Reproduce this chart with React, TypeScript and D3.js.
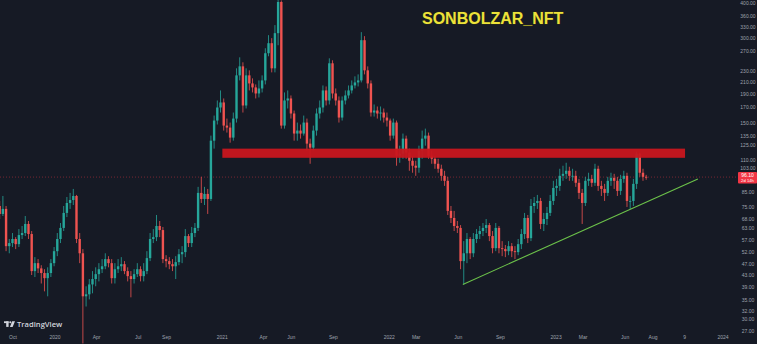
import React from 'react';
import * as d3 from 'd3';

const W = 757;
const H = 344;

// weekly candles, first week starting 2019-09-02
const firstWeek = '2019-09-02';
const firstOpen = 75.8;
const closes = [
  71.0, 74.0, 54.5, 55.9, 57.8, 55.4, 59.7, 60.7, 65.4, 60.2,
  44.4, 47.4, 45.4, 43.7, 41.9, 43.7, 47.4, 52.3, 57.8, 63.3,
  71.6, 77.7, 79.6, 82.3, 57.8, 51.4, 36.1, 36.7, 39.8, 41.6,
  43.3, 45.1, 46.2, 49.0, 47.4, 41.9, 45.1, 46.2, 47.0, 44.4,
  42.6, 41.6, 43.3, 45.1, 42.6, 44.4, 49.4, 57.8, 58.7, 64.3,
  62.2, 49.0, 48.2, 47.0, 46.2, 47.8, 51.0, 51.9, 59.2, 55.9,
  60.7, 63.3, 84.4, 80.3, 83.7, 80.3, 129.6, 152.9, 170.2, 177.4,
  146.7, 144.3, 132.9, 155.4, 221.6, 238.6, 173.0, 221.6, 207.4, 200.7,
  191.0, 199.0, 212.6, 265.8, 288.6, 234.8, 313.4, 404.8, 146.7, 180.3,
  183.3, 162.0, 137.4, 140.8, 137.4, 150.4, 126.5, 122.4, 140.8, 162.0,
  170.2, 195.8, 180.3, 244.7, 191.0, 180.3, 156.7, 180.3, 187.9, 195.8,
  204.0, 209.1, 212.6, 295.8, 230.9, 207.4, 163.3, 166.0, 162.0, 163.3,
  156.7, 152.9, 135.1, 150.4, 114.5, 116.5, 131.8, 117.5, 109.9, 105.5,
  103.8, 119.4, 131.8, 135.1, 114.5, 111.7, 107.2, 102.9, 97.1, 93.2,
  72.8, 68.7, 64.3, 63.3, 48.2, 51.4, 57.8, 51.4, 57.8, 60.2,
  61.7, 63.3, 64.8, 59.2, 53.6, 63.3, 53.6, 53.2, 52.3, 54.5,
  52.3, 51.9, 55.4, 60.2, 68.7, 58.2, 75.8, 77.7, 79.0, 65.4,
  68.1, 71.6, 79.0, 87.9, 89.4, 97.1, 98.7, 101.2, 97.1, 97.1,
  91.7, 84.4, 77.7, 93.2, 94.7, 91.7, 102.9, 89.4, 87.2, 84.4,
  93.2, 95.5, 93.2, 85.8, 94.7, 97.1, 79.0, 79.0, 90.9, 116.5,
  99.6, 96.3, 96.1,
];
const highs = [
  79.0, 82.3, 75.8, 57.8, 60.7, 58.7, 62.7, 64.3, 69.8, 67.0,
  61.7, 49.8, 49.0, 46.6, 45.1, 45.8, 49.0, 54.1, 60.7, 65.9,
  75.8, 81.6, 84.4, 87.2, 83.0, 60.7, 53.2, 39.2, 41.6, 44.4,
  45.8, 47.4, 49.0, 51.4, 50.2, 49.0, 47.4, 49.0, 49.8, 48.2,
  45.8, 44.4, 45.1, 47.4, 46.2, 47.4, 52.3, 60.7, 62.7, 70.4,
  67.0, 63.8, 50.6, 49.8, 49.0, 50.2, 53.2, 54.5, 62.7, 60.2,
  63.8, 65.9, 88.7, 96.3, 88.7, 87.2, 135.1, 159.3, 180.3, 195.8,
  183.3, 155.4, 150.4, 163.3, 234.8, 257.0, 246.7, 234.8, 230.9, 216.2,
  205.7, 212.6, 221.6, 276.9, 308.3, 300.8, 334.8, 484.9, 410.0, 192.6,
  195.8, 187.9, 166.0, 150.4, 148.0, 159.3, 155.4, 131.8, 146.7, 168.8,
  180.3, 204.0, 202.3, 254.9, 250.8, 199.0, 186.4, 186.4, 195.8, 204.0,
  212.6, 219.8, 223.4, 316.0, 305.8, 238.6, 212.6, 174.5, 171.6, 171.6,
  168.8, 163.3, 155.4, 155.4, 152.9, 124.4, 137.4, 135.1, 121.4, 114.5,
  109.9, 124.4, 140.8, 143.1, 138.5, 119.4, 114.5, 111.7, 106.4, 101.2,
  96.3, 75.8, 72.8, 67.0, 64.8, 56.8, 60.7, 58.7, 60.7, 62.7,
  64.3, 65.9, 68.1, 65.9, 61.7, 65.9, 64.3, 56.8, 55.0, 56.8,
  55.9, 54.5, 57.8, 62.7, 71.6, 70.4, 80.3, 81.6, 83.0, 81.0,
  71.6, 75.2, 83.0, 93.2, 94.7, 102.9, 105.5, 108.1, 104.6, 102.9,
  101.2, 94.7, 87.2, 96.3, 99.6, 97.9, 107.2, 105.5, 93.2, 90.9,
  96.3, 99.6, 98.7, 96.3, 97.9, 101.2, 99.6, 82.3, 94.7, 118.4,
  117.5, 102.9, 97.9,
];
const lows = [
  68.1, 69.8, 52.3, 51.4, 54.1, 53.2, 54.1, 57.8, 59.2, 57.8,
  43.0, 42.3, 43.7, 40.1, 37.6, 36.1, 42.3, 46.2, 50.2, 55.9,
  61.7, 69.2, 74.0, 76.4, 55.9, 47.4, 24.5, 33.2, 35.2, 37.0,
  39.2, 40.8, 43.7, 45.1, 45.8, 40.1, 40.1, 43.7, 44.4, 43.3,
  40.8, 35.8, 40.1, 42.3, 40.8, 40.8, 43.3, 48.2, 55.9, 56.8,
  58.7, 47.4, 45.8, 45.1, 44.4, 41.6, 46.6, 47.4, 49.8, 54.1,
  54.1, 58.7, 61.7, 77.7, 76.4, 71.0, 79.0, 121.4, 148.0, 163.3,
  140.8, 138.5, 127.5, 129.6, 150.4, 212.6, 163.3, 168.8, 195.8, 192.6,
  183.3, 184.8, 192.6, 205.7, 259.2, 227.1, 227.1, 283.8, 143.1, 143.1,
  168.8, 155.4, 129.6, 129.6, 131.8, 135.1, 119.4, 107.2, 119.4, 135.1,
  155.4, 163.3, 173.0, 174.5, 183.3, 173.0, 150.4, 152.9, 174.5, 183.3,
  191.0, 199.0, 202.3, 209.1, 223.4, 199.0, 158.0, 158.0, 155.4, 152.9,
  150.4, 145.5, 129.6, 131.8, 105.5, 108.1, 111.7, 111.7, 101.2, 99.6,
  97.1, 99.6, 111.7, 124.4, 111.7, 107.2, 102.9, 99.6, 93.2, 89.4,
  70.4, 65.9, 61.7, 60.7, 45.1, 39.8, 47.4, 49.0, 49.8, 55.9,
  57.8, 59.2, 60.7, 56.8, 51.4, 52.3, 51.4, 50.2, 49.8, 50.6,
  49.8, 49.0, 50.6, 53.2, 57.8, 55.9, 56.8, 71.6, 74.0, 62.7,
  61.7, 64.8, 69.8, 76.4, 82.3, 85.8, 93.2, 94.7, 93.2, 93.2,
  88.7, 80.3, 65.4, 75.8, 89.4, 88.7, 89.4, 85.8, 82.3, 79.0,
  82.3, 89.4, 87.2, 82.3, 83.0, 91.7, 75.2, 74.0, 75.8, 87.2,
  96.3, 93.2, 94.0,
];

const priceTicks = [400, 360, 330, 300, 270, 230, 210, 190, 170, 150, 135, 125, 110, 103, 85, 75, 68, 63, 57, 52, 47, 43, 39, 35, 32, 30, 27];

const timeTickDates = ['2019-10-01', '2020-01-01', '2020-04-01', '2020-07-01', '2020-09-01', '2021-01-01', '2021-04-01', '2021-06-01', '2021-09-01', '2022-01-01', '2022-03-01', '2022-06-01', '2022-09-01', '2023-01-01', '2023-03-01', '2023-06-01', '2023-08-01', '2023-10-09', '2024-01-01'];
const timeTickLabels = ['Oct', '2020', 'Apr', 'Jul', 'Sep', '2021', 'Apr', 'Jun', 'Sep', '2022', 'Mar', 'Jun', 'Sep', '2023', 'Mar', 'Jun', 'Aug', '9', '2024'];

// resistance zone
const zoneDates = ['2021-01-01', '2023-10-10'];
const zonePrices = [112.6, 121.4];
// rising support trendline
const trendDates = ['2022-06-11', '2023-11-07'];
const trendPrices = [39.8, 94.7];

const title = 'SONBOLZAR_NFT';
const countdown = '2d 14h';

const UP = '#26a69a';
const DOWN = '#ef5350';
const BG = '#161a25';
const AXIS_TEXT = '#9fa3ad';

const parse = (s: string) => new Date(s + 'T00:00:00Z');

export default function App() {
  const x = d3.scaleUtc().domain([parse('2020-01-01'), parse('2024-01-01')]).range([55, 723]);
  const y = d3.scaleLog().domain([24.4, 411.5]).range([H, 0]);

  const start = parse(firstWeek);
  const candles = closes.map((c, i) => {
    const o = i === 0 ? firstOpen : closes[i - 1];
    return {
      date: d3.utcDay.offset(start, 7 * i),
      o,
      c,
      h: Math.max(highs[i], o, c),
      l: Math.min(lows[i], o, c),
    };
  });
  const last = closes[closes.length - 1];
  const lastY = y(last);
  const bw = 2.4;

  const trendLine = d3
    .line<[Date, number]>()
    .x((d) => x(d[0]))
    .y((d) => y(d[1]));
  const trendData: [Date, number][] = trendDates.map((d, i) => [parse(d), trendPrices[i]]);

  const font = "Arial, 'Liberation Sans', sans-serif";

  return (
    <svg
      width={W}
      height={H}
      style={{ position: 'absolute', left: 0, top: 0, display: 'block' }}
      xmlns="http://www.w3.org/2000/svg"
    >
      <rect x={0} y={0} width={W} height={H} fill={BG} />

      {/* last price dotted line */}
      <line x1={0} x2={738} y1={lastY} y2={lastY} stroke="#f23645" strokeOpacity={0.55} strokeWidth={0.8} strokeDasharray="1,2" />

      {/* candles */}
      <g>
        {candles.map((d, i) => {
          const cx = x(d.date);
          const up = d.c >= d.o;
          const col = up ? UP : DOWN;
          const yt = y(Math.max(d.o, d.c));
          const yb = y(Math.min(d.o, d.c));
          return (
            <g key={i}>
              <line x1={cx} x2={cx} y1={y(d.h)} y2={y(d.l)} stroke={col} strokeWidth={0.8} />
              <rect x={cx - bw / 2} y={yt} width={bw} height={Math.max(0.8, yb - yt)} fill={col} />
            </g>
          );
        })}
      </g>

      {/* resistance zone */}
      <rect
        x={x(parse(zoneDates[0]))}
        y={y(zonePrices[1])}
        width={x(parse(zoneDates[1])) - x(parse(zoneDates[0]))}
        height={y(zonePrices[0]) - y(zonePrices[1])}
        fill="#c8161d"
        fillOpacity={0.95}
      />

      {/* trendline */}
      <path d={trendLine(trendData) || ''} fill="none" stroke="#6cc24a" strokeWidth={1.1} />

      {/* price axis */}
      <g fontFamily={font} fontSize={5} fill={AXIS_TEXT} textAnchor="middle">
        {priceTicks.map((p) => (
          <text key={p} x={748} y={y(p) + 1.8}>
            {p.toFixed(2)}
          </text>
        ))}
      </g>
      <rect x={738} y={lastY - 5} width={19} height={11.5} rx={1} fill="#f23645" />
      <text x={747.5} y={lastY + 0.2} fontSize={5} fill="#ffffff" textAnchor="middle" fontFamily={font}>
        {last.toFixed(2)}
      </text>
      <text x={747.5} y={lastY + 5} fontSize={4.2} fill="#ffffff" textAnchor="middle" fontFamily={font}>
        {countdown}
      </text>

      {/* time axis */}
      <g fontFamily={font} fontSize={5} fill={AXIS_TEXT} textAnchor="middle">
        {timeTickDates.map((d, i) => (
          <text key={d} x={x(parse(d))} y={339}>
            {timeTickLabels[i]}
          </text>
        ))}
      </g>

      {/* TradingView watermark */}
      <g fill="#d1d4dc">
        <rect x={4} y={321.3} width={4.6} height={1.8} />
        <rect x={6.2} y={321.3} width={2.4} height={5.6} />
        <circle cx={10.3} cy={322.3} r={1.05} />
        <polygon points="12.2,321.3 15,321.3 12.6,326.9 9.9,326.9" />
      </g>
      <text x={17} y={327} fontSize={7.6} fontWeight={600} fill="#d1d4dc" fontFamily="'Open Sans', Arial, sans-serif">
        TradingView
      </text>

      {/* title */}
      <text
        x={422}
        y={24}
        fontSize={16}
        fontWeight="bold"
        fill="#ece23a"
        stroke="#2b2a12"
        strokeWidth={0.8}
        paintOrder="stroke"
        fontFamily={font}
      >
        {title}
      </text>
    </svg>
  );
}
